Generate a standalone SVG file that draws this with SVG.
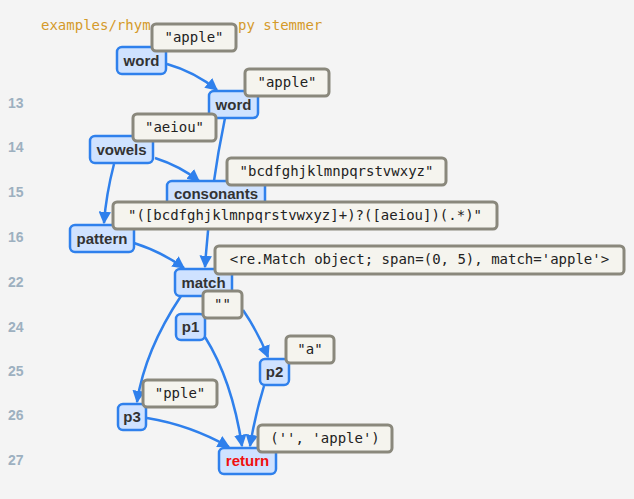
<svg xmlns="http://www.w3.org/2000/svg" width="634" height="499" viewBox="0 0 634 499">
<style>
.ln{font:bold 14px "Liberation Sans",Arial,sans-serif;fill:#9db0c0}
.n rect{fill:#cfe2ff;stroke:#2f80ec;stroke-width:2.5}
.n text{font:bold 15px "Liberation Sans",Arial,sans-serif;fill:#333;text-anchor:middle}
.v rect{fill:#f5f4ee;stroke:#8a887c;stroke-width:3}
.v text{font:14px "DejaVu Sans Mono",monospace;fill:#222;text-anchor:middle}
.e path{fill:none;stroke:#2f80ec;stroke-width:2.5;marker-end:url(#a)}
.t{font:14px "DejaVu Sans Mono",monospace;fill:#d49a2a}
</style>
<defs><marker id="a" viewBox="0 0 10 10" refX="9" refY="5" markerWidth="5" markerHeight="5" orient="auto" markerUnits="strokeWidth"><path d="M0,0L10,5L0,10z" fill="#2f80ec"/></marker></defs>
<rect width="634" height="499" fill="#f4f4f4"/>
<text class="t" x="41" y="30">examples/rhym</text>
<text class="t" x="238" y="30">py stemmer</text>
<g class="ln"><text x="8" y="108">13</text><text x="8" y="152">14</text><text x="8" y="197">15</text><text x="8" y="242">16</text><text x="8" y="287">22</text><text x="8" y="332">24</text><text x="8" y="376">25</text><text x="8" y="420">26</text><text x="8" y="465">27</text></g>
<g class="e" id="edges">
<path d="M167,64 Q195,72 217,90"/>
<path d="M225,118 Q210,190 205,267"/>
<path d="M155,158 Q180,166 199,181"/>
<path d="M114,164 Q106,195 104,223"/>
<path d="M134,243 Q162,252 184,268"/>
<path d="M181,296 Q145,350 137,402"/>
<path d="M205,337 Q232,380 242,446"/>
<path d="M243,310 Q258,332 268,357"/>
<path d="M264,386 Q255,415 250,446"/>
<path d="M147,418 Q190,425 229,447"/>
</g>
<g class="n" id="word1"><rect x="117" y="47" width="49" height="27" rx="5"/><text x="141.5" y="66">word</text></g>
<g class="v" id="val_word1"><rect x="152" y="24" width="84" height="27" rx="4"/><text x="194" y="42">"apple"</text></g>
<g class="n" id="word2"><rect x="209" y="91" width="49" height="27" rx="5"/><text x="233.5" y="110">word</text></g>
<g class="v" id="val_word2"><rect x="245" y="69" width="84" height="27" rx="4"/><text x="287" y="87">"apple"</text></g>
<g class="n" id="vowels"><rect x="90" y="136" width="63" height="27" rx="5"/><text x="121.5" y="155">vowels</text></g>
<g class="v" id="val_vowels"><rect x="133" y="114" width="83" height="27" rx="4"/><text x="174.5" y="132">"aeiou"</text></g>
<g class="n" id="consonants"><rect x="167" y="181" width="98" height="27" rx="5"/><text x="216" y="199">consonants</text></g>
<g class="v" id="val_consonants"><rect x="227" y="158" width="219" height="27" rx="4"/><text x="336.5" y="176">"bcdfghjklmnpqrstvwxyz"</text></g>
<g class="n" id="pattern"><rect x="70" y="225" width="64" height="27" rx="5"/><text x="102" y="244">pattern</text></g>
<g class="v" id="val_pattern"><rect x="113" y="202" width="384" height="27" rx="4"/><text x="305" y="220">"([bcdfghjklmnpqrstvwxyz]+)?([aeiou])(.*)"</text></g>
<g class="n" id="match"><rect x="175" y="269" width="57" height="27" rx="5"/><text x="203.5" y="288">match</text></g>
<g class="v" id="val_match"><rect x="215" y="246" width="409" height="28" rx="4"/><text x="419.5" y="264">&lt;re.Match object; span=(0, 5), match='apple'&gt;</text></g>
<g class="n" id="p1"><rect x="176" y="314" width="29" height="26" rx="5"/><text x="190.5" y="332">p1</text></g>
<g class="v" id="val_p1"><rect x="203" y="291" width="39" height="27" rx="4"/><text x="222.5" y="309">""</text></g>
<g class="n" id="p2"><rect x="260" y="359" width="29" height="26" rx="5"/><text x="274.5" y="377">p2</text></g>
<g class="v" id="val_p2"><rect x="286" y="336" width="48" height="27" rx="4"/><text x="310" y="354">"a"</text></g>
<g class="n" id="p3"><rect x="118" y="404" width="28" height="26" rx="5"/><text x="132" y="422">p3</text></g>
<g class="v" id="val_p3"><rect x="143" y="380" width="74" height="27" rx="4"/><text x="180" y="398">"pple"</text></g>
<g class="n" id="return"><rect x="219" y="448" width="57" height="26" rx="5"/><text x="247.5" y="466" style="fill:#f01010">return</text></g>
<g class="v" id="val_return"><rect x="258" y="425" width="134" height="27" rx="4"/><text x="325" y="443">('', 'apple')</text></g>
</svg>
